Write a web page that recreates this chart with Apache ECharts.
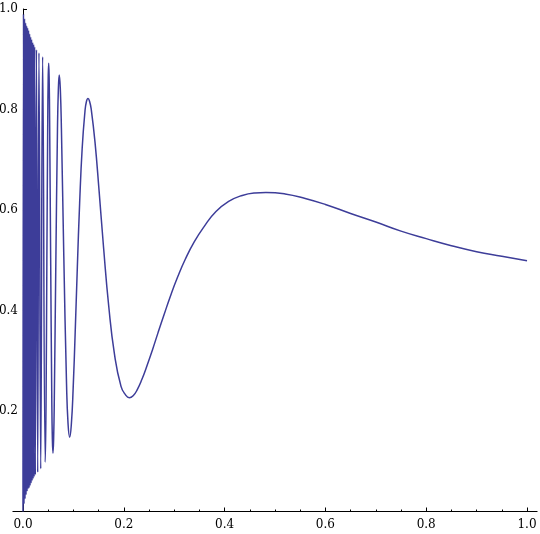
<!DOCTYPE html>
<html>
<head>
<meta charset="utf-8">
<script src="https://cdn.jsdelivr.net/npm/echarts@6/dist/echarts.min.js"></script>
<style>
html,body{margin:0;padding:0;background:#fff;}
#chart{width:540px;height:534px;}
</style>
</head>
<body>
<div id="chart"></div>
<script>
// Values
const xValues = [
  0.000, 0.001, 0.002, 0.003, 0.004, 0.005, 0.006, 0.007, 0.008, 0.009,
  0.010, 0.011, 0.012, 0.013, 0.014, 0.015, 0.016, 0.017, 0.018, 0.019,
  0.020, 0.021, 0.022, 0.023, 0.0245, 0.0267, 0.0292, 0.0317, 0.0352, 0.0390,
  0.0442, 0.04573, 0.04736, 0.04912, 0.05003, 0.0510, 0.05192, 0.05288, 0.05491, 0.05711,
  0.05827, 0.0595, 0.06081, 0.06219, 0.06515, 0.0684, 0.07015, 0.0720, 0.07407, 0.07622,
  0.0810, 0.08643, 0.0894, 0.0926, 0.09598, 0.09962, 0.10355, 0.10781, 0.11242, 0.11745,
  0.12296, 0.1259, 0.1290, 0.1322, 0.1356, 0.1429, 0.1510, 0.1600, 0.1700, 0.1815,
  0.1945, 0.2035, 0.2110, 0.2190, 0.2270, 0.2360, 0.2460, 0.2570, 0.2680, 0.2800,
  0.2930, 0.3070, 0.3220, 0.3400, 0.3600, 0.3820, 0.4080, 0.4350, 0.4600, 0.4820,
  0.5200, 0.5600, 0.6000, 0.6500, 0.7000, 0.7500, 0.8000, 0.8500, 0.9000, 0.9500,
  1.0000
];
const yValues = [
  0.000, 0.990, 0.015, 0.981, 0.025, 0.973, 0.033, 0.967, 0.040, 0.963,
  0.045, 0.958, 0.047, 0.951, 0.051, 0.945, 0.056, 0.940, 0.061, 0.934,
  0.065, 0.930, 0.069, 0.925, 0.073, 0.919, 0.078, 0.913, 0.085, 0.905,
  0.098, 0.214, 0.495, 0.776, 0.862, 0.892, 0.862, 0.778, 0.504, 0.230,
  0.145, 0.116, 0.145, 0.226, 0.492, 0.758, 0.839, 0.8685, 0.841, 0.763,
  0.508, 0.253, 0.175, 0.148, 0.174, 0.247, 0.356, 0.485, 0.614, 0.723,
  0.796, 0.816, 0.822, 0.816, 0.799, 0.735, 0.638, 0.524, 0.410, 0.313,
  0.249, 0.232, 0.2265, 0.231, 0.243, 0.263, 0.290, 0.322, 0.356, 0.392,
  0.430, 0.467, 0.502, 0.537, 0.568, 0.596, 0.617, 0.629, 0.634, 0.635,
  0.632, 0.623, 0.611, 0.593, 0.576, 0.558, 0.543, 0.529, 0.517, 0.508,
  0.499
];
const xMajorTicks = [0, 0.2, 0.4, 0.6, 0.8, 1.0];
const xMinorTicks = [0.05, 0.1, 0.15, 0.25, 0.3, 0.35, 0.45, 0.5, 0.55, 0.65, 0.7, 0.75, 0.85, 0.9, 0.95];
const yTickLabels = ['0.2', '0.4', '0.6', '0.8', '1.0'];

const FONT = "'DejaVu Serif', 'Liberation Serif', serif";
const lineColor = '#3d3d99';

const chart = echarts.init(document.getElementById('chart'), null, {renderer: 'canvas'});
chart.setOption({
  animation: false,
  backgroundColor: '#ffffff',
  grid: {left: 12.9, right: 2.9, top: 9, bottom: 22.5, containLabel: false, outerBoundsMode: 'none'},
  xAxis: [{
    type: 'value', min: -0.02, max: 1.02, position: 'bottom',
    axisLine: {show: true, onZero: false, lineStyle: {color: '#000', width: 1}},
    axisTick: {show: true, inside: true, length: 4, customValues: xMajorTicks, lineStyle: {color: '#000', width: 1}},
    axisLabel: {show: true, customValues: xMajorTicks, margin: 7, color: '#000', fontFamily: FONT, fontSize: 12,
      formatter: v => v.toFixed(1)},
    splitLine: {show: false}
  }, {
    type: 'value', min: -0.02, max: 1.02, position: 'bottom',
    axisLine: {show: false, onZero: false},
    axisTick: {show: true, inside: true, length: 2, customValues: xMinorTicks, lineStyle: {color: '#000', width: 1}},
    axisLabel: {show: false},
    splitLine: {show: false}
  }],
  yAxis: {
    type: 'value', min: 0, max: 1, interval: 0.2,
    position: 'left', offset: -10.08,
    axisLine: {show: true, onZero: false, lineStyle: {color: '#000', width: 1}},
    axisTick: {show: true, inside: true, length: 4, lineStyle: {color: '#000', width: 1}},
    minorTick: {show: true, splitNumber: 4, length: 2, lineStyle: {color: '#000', width: 1}},
    axisLabel: {show: true, margin: 5, color: '#000', fontFamily: FONT, fontSize: 12,
      formatter: v => {
        const s = v.toFixed(1);
        return yTickLabels.indexOf(s) >= 0 ? s : '';
      }},
    splitLine: {show: false},
    minorSplitLine: {show: false}
  },
  series: [{
    type: 'line',
    xAxisIndex: 0,
    data: xValues.map((x, i) => [x, yValues[i]]),
    showSymbol: false,
    smooth: 0.5,
    lineStyle: {color: lineColor, width: 1.5},
    itemStyle: {color: lineColor}
  }]
});
</script>
</body>
</html>
